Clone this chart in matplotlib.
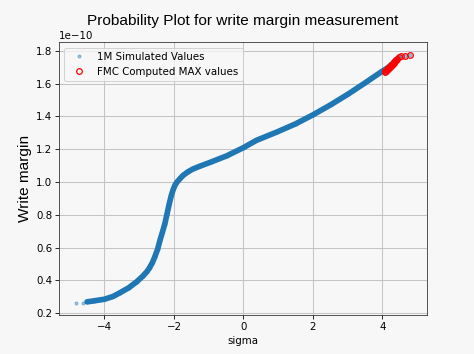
import numpy as np
from matplotlib import pyplot as plt

# values, y in units of 1e-10
sigma = [-4.82, -4.62, -4.50, -4.30, -4.00, -3.75, -3.55, -3.30, -3.07, -2.90,
         -2.78, -2.70, -2.62, -2.55, -2.47, -2.40, -2.33, -2.26, -2.20, -2.14,
         -2.08, -2.02, -1.96, -1.90, -1.82, -1.74, -1.60, -1.45, -1.25, -0.96,
         -0.48, 0.0, 0.38, 0.96, 1.50, 2.00, 2.50, 3.00, 3.50, 4.00,
         4.10, 4.20, 4.30, 4.43, 4.47, 4.54, 4.64, 4.79]
margin = [0.264, 0.264, 0.269, 0.275, 0.285, 0.302, 0.325, 0.355, 0.392, 0.425,
          0.453, 0.478, 0.508, 0.544, 0.590, 0.646, 0.695, 0.747, 0.805, 0.862,
          0.915, 0.955, 0.985, 1.003, 1.022, 1.040, 1.062, 1.080, 1.097, 1.120,
          1.160, 1.210, 1.255, 1.305, 1.355, 1.410, 1.470, 1.535, 1.605, 1.677,
          1.690, 1.705, 1.725, 1.752, 1.762, 1.768, 1.768, 1.776]

sigma_max = [4.06, 4.08, 4.10, 4.12, 4.14, 4.16, 4.18, 4.20, 4.22, 4.24, 4.26,
             4.28, 4.30, 4.32, 4.34, 4.36, 4.38, 4.40, 4.43, 4.47, 4.54, 4.64, 4.79]
margin_max = [1.672, 1.676, 1.680, 1.684, 1.688, 1.692, 1.696, 1.700, 1.704,
              1.708, 1.712, 1.717, 1.722, 1.727, 1.732, 1.737, 1.742, 1.747,
              1.752, 1.762, 1.768, 1.768, 1.776]

SCALE = 1e-10
bg = '#f7f7f7'

fig = plt.figure(figsize=(474 / 74, 354 / 74), dpi=74, facecolor=bg)
ax = fig.add_subplot(111, facecolor=bg)

x = np.array(sigma)
y = np.array(margin) * SCALE
dense = (x > -4.55) & (x < 4.45)

ax.plot(x[dense], y[dense], '-', color='#1f77b4', lw=5.5, solid_capstyle='round',
        solid_joinstyle='round', zorder=2)
ax.plot(x, y, '.', color='#1f77b4', alpha=0.4, label='1M Simulated Values', zorder=3)
ax.plot(sigma_max, np.array(margin_max) * SCALE, 'o', mfc='none', mec='red',
        ms=5.5, mew=1.2, label='FMC Computed MAX values', zorder=4)

ax.grid(True, color='#c4c4c4', lw=1.0)
ax.set_axisbelow(True)
for s in ax.spines.values():
    s.set_color('#333333')

ax.set_title('Probability Plot for write margin measurement',
             fontsize=15, family='Liberation Sans')
ax.set_ylabel('Write margin', fontsize=15, family='Liberation Sans')
ax.set_xlabel('sigma')
ax.legend(loc='upper left', facecolor=bg)

plt.savefig('out.png', dpi=74, facecolor=bg)
plt.close()
